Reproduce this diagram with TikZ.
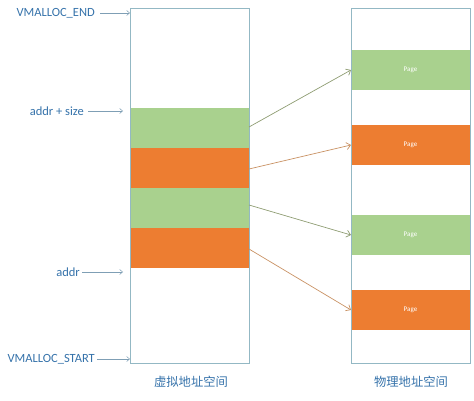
\documentclass[tikz,border=0pt]{standalone}
\usepackage{fontspec}
\setmainfont{Carlito}
\newfontfamily\cjk{Noto Sans CJK SC}
\usetikzlibrary{arrows.meta}
\definecolor{lbl}{HTML}{3572AA}
\definecolor{frame}{HTML}{93B8C4}
\definecolor{pgreen}{HTML}{A9D18E}
\definecolor{porange}{HTML}{ED7D31}
\definecolor{garrow}{HTML}{8E9C72}
\definecolor{oarrow}{HTML}{C99264}
\definecolor{tickarrow}{HTML}{7F9FB5}
\tikzset{
  membox/.style={draw=frame, line width=1pt},
  gblock/.style={fill=pgreen},
  oblock/.style={fill=porange},
  pagelbl/.style={text=white, font=\fontsize{7}{8}\selectfont},
  addrlbl/.style={text=lbl, font=\fontsize{12.5}{14}\selectfont, anchor=east, inner sep=0pt},
  tick/.style={draw=tickarrow, line width=0.5pt, -{Straight Barb[length=3pt,width=5pt]}},
  garr/.style={draw=garrow, line width=0.7pt, -{Straight Barb[length=4pt,width=7pt]}},
  oarr/.style={draw=oarrow, line width=0.7pt, -{Straight Barb[length=4pt,width=7pt]}},
  spacecaption/.style={text=lbl, font=\cjk\fontsize{12.3}{14}\selectfont}
}
\begin{document}
\begin{tikzpicture}[x=1pt,y=-1pt]
\useasboundingbox (0,0) rectangle (474,401);
% virtual blocks
\path[gblock] (130,108) rectangle (249,148) node[midway] (v1) {};
\path[oblock] (130,148) rectangle (249,188) node[midway] (v2) {};
\path[gblock] (130,188) rectangle (249,228) node[midway] (v3) {};
\path[oblock] (130,228) rectangle (249,268) node[midway] (v4) {};
\draw[membox] (130,9) rectangle (249,363);
\coordinate (vr1) at (249,127);
\coordinate (vr2) at (249,169);
\coordinate (vr3) at (249,205);
\coordinate (vr4) at (249,249);
% physical pages
\path[gblock] (351,50) rectangle (470,90) node[midway,pagelbl] (p1) {Page};
\path[oblock] (351,125) rectangle (470,165) node[midway,pagelbl] (p2) {Page};
\path[gblock] (351,215) rectangle (470,255) node[midway,pagelbl] (p3) {Page};
\path[oblock] (351,290) rectangle (470,330) node[midway,pagelbl] (p4) {Page};
\draw[membox] (351,9) rectangle (470,363);
\coordinate (pl1) at (351,70);
\coordinate (pl2) at (351,145);
\coordinate (pl3) at (351,235);
\coordinate (pl4) at (351,310);
% mapping arrows
\draw[garr] (vr1) -- (pl1);
\draw[oarr] (vr2) -- (pl2);
\draw[garr] (vr3) -- (pl3);
\draw[oarr] (vr4) -- (pl4);
% address labels
\node[addrlbl] (lend) at (95,13) {VMALLOC\_END};
\node[addrlbl] (lsize) at (84,111) {addr + size};
\node[addrlbl] (laddr) at (80,272) {addr};
\node[addrlbl] (lstart) at (95,359) {VMALLOC\_START};
\coordinate (tend) at (130,13);
\coordinate (tsize) at (123,111);
\coordinate (taddr) at (123,272);
\coordinate (tstart) at (130,359);
\draw[tick] ([xshift=5pt]lend.east) -- (tend);
\draw[tick] ([xshift=4pt]lsize.east) -- (tsize);
\draw[tick] ([xshift=2pt]laddr.east) -- (taddr);
\draw[tick] ([xshift=2pt]lstart.east) -- (tstart);
% captions
\node[spacecaption] (cv) at (191,382) {虚拟地址空间};
\node[spacecaption] (cp) at (411,382) {物理地址空间};
\end{tikzpicture}
\end{document}
